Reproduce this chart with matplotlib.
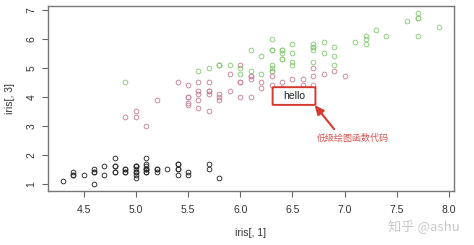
import matplotlib
matplotlib.use("Agg")
import matplotlib.pyplot as plt
from matplotlib.patches import FancyBboxPatch

plt.rcParams['font.family'] = ['Liberation Sans', 'Noto Sans CJK SC', 'DejaVu Sans']

species = ["setosa", "versicolor", "virginica"]
sepal_length = {
    "setosa": [5.1,4.9,4.7,4.6,5.0,5.4,4.6,5.0,4.4,4.9,5.4,4.8,4.8,4.3,5.8,5.7,5.4,5.1,5.7,5.1,
               5.4,5.1,4.6,5.1,4.8,5.0,5.0,5.2,5.2,4.7,4.8,5.4,5.2,5.5,4.9,5.0,5.5,4.9,4.4,5.1,
               5.0,4.5,4.4,5.0,5.1,4.8,5.1,4.6,5.3,5.0],
    "versicolor": [7.0,6.4,6.9,5.5,6.5,5.7,6.3,4.9,6.6,5.2,5.0,5.9,6.0,6.1,5.6,6.7,5.6,5.8,6.2,5.6,
                   5.9,6.1,6.3,6.1,6.4,6.6,6.8,6.7,6.0,5.7,5.5,5.5,5.8,6.0,5.4,6.0,6.7,6.3,5.6,5.5,
                   5.5,6.1,5.8,5.0,5.6,5.7,5.7,6.2,5.1,5.7],
    "virginica": [6.3,5.8,7.1,6.3,6.5,7.6,4.9,7.3,6.7,7.2,6.5,6.4,6.8,5.7,5.8,6.4,6.5,7.7,7.7,6.0,
                  6.9,5.6,7.7,6.3,6.7,7.2,6.2,6.1,6.4,7.2,7.4,7.9,6.4,6.3,6.1,7.7,6.3,6.4,6.0,6.9,
                  6.7,6.9,5.8,6.8,6.7,6.7,6.3,6.5,6.2,5.9],
}
petal_length = {
    "setosa": [1.4,1.4,1.3,1.5,1.4,1.7,1.4,1.5,1.4,1.5,1.5,1.6,1.4,1.1,1.2,1.5,1.3,1.4,1.7,1.5,
               1.7,1.5,1.0,1.7,1.9,1.6,1.6,1.5,1.4,1.6,1.6,1.5,1.5,1.4,1.5,1.2,1.3,1.4,1.3,1.5,
               1.3,1.3,1.3,1.6,1.9,1.4,1.6,1.4,1.5,1.4],
    "versicolor": [4.7,4.5,4.9,4.0,4.6,4.5,4.7,3.3,4.6,3.9,3.5,4.2,4.0,4.7,3.6,4.4,4.5,4.1,4.5,3.9,
                   4.8,4.0,4.9,4.7,4.3,4.4,4.8,5.0,4.5,3.5,3.8,3.7,3.9,5.1,4.5,4.5,4.7,4.4,4.1,4.0,
                   4.4,4.6,4.0,3.3,4.2,4.2,4.2,4.3,3.0,4.1],
    "virginica": [6.0,5.1,5.9,5.6,5.8,6.6,4.5,6.3,5.8,6.1,5.1,5.3,5.5,5.0,5.1,5.3,5.5,6.7,6.9,5.0,
                  5.7,4.9,6.7,4.9,5.7,6.0,4.8,4.9,5.6,5.8,6.1,6.4,5.6,5.1,5.6,6.1,5.6,5.5,4.8,5.4,
                  5.6,5.1,5.1,5.9,5.7,5.2,5.0,5.2,5.4,5.1],
}
colors = {"setosa": "#2a2a2a", "versicolor": "#c8849a", "virginica": "#8acc7a"}
x_ticks = [4.5, 5.0, 5.5, 6.0, 6.5, 7.0, 7.5, 8.0]
x_tick_labels = ["4.5", "5.0", "5.5", "6.0", "6.5", "7.0", "7.5", "8.0"]
y_ticks = [1, 2, 3, 4, 5, 6, 7]
y_tick_labels = ["1", "2", "3", "4", "5", "6", "7"]

fig = plt.figure(figsize=(4.74, 2.45), dpi=100)
ax = fig.add_axes([0.1006, 0.2216, 0.8566, 0.7551])

for sp in species:
    ax.plot(sepal_length[sp], petal_length[sp], linestyle='none', marker='o',
            markersize=3.4, markerfacecolor='none', markeredgecolor=colors[sp],
            markeredgewidth=0.65)

allx = sum(sepal_length.values(), [])
ally = sum(petal_length.values(), [])
dx = (max(allx) - min(allx)) * 0.04
dy = (max(ally) - min(ally)) * 0.04
ax.set_xlim(min(allx) - dx, max(allx) + dx)
ax.set_ylim(min(ally) - dy, max(ally) + dy)

ax.set_xticks(x_ticks)
ax.set_xticklabels(x_tick_labels, fontsize=7.5, color='#333333')
ax.set_yticks(y_ticks)
ax.set_yticklabels(y_tick_labels, fontsize=7.5, color='#333333', rotation=90, va='center')
ax.tick_params(axis='both', direction='out', length=4.5, width=0.8, color='#666666')
ax.tick_params(axis='x', pad=6)
ax.tick_params(axis='y', pad=3.5)
for s in ax.spines.values():
    s.set_color('#777777')
    s.set_linewidth(1.0)

ax.set_xlabel("iris[, 1]", fontsize=7.5, color='#333333', labelpad=9)
ax.set_ylabel("iris[, 3]", fontsize=7.5, color='#333333', labelpad=8)

# annotation box
box = FancyBboxPatch((6.31, 3.72), 0.41, 0.61, boxstyle="round,pad=0,rounding_size=0.03",
                     fill=True, facecolor='white', edgecolor='#d43a2f', linewidth=1.4,
                     mutation_aspect=0.28, zorder=5)
ax.add_patch(box)
ax.text(6.515, 4.02, "hello", fontsize=7.5, ha='center', va='center', color='#222222', zorder=6)
ax.annotate("", xy=(6.712, 3.714), xytext=(6.899, 2.886),
            arrowprops=dict(arrowstyle='-|>,head_length=0.55,head_width=0.25', color='#d43a2f',
                            linewidth=1.5, shrinkA=0, shrinkB=0), zorder=6)
ax.text(7.08, 2.58, "低级绘图函数代码", fontsize=6.5, ha='center', va='center',
        color='#d9534f', family=['Noto Sans CJK SC', 'DejaVu Sans'])

fig.text(0.97, 0.075, "知乎 @ashu", fontsize=9.5, ha='right', va='center', color='#c8c8c8',
         family=['Noto Sans CJK SC', 'DejaVu Sans'])

fig.savefig("out.png", dpi=100)
